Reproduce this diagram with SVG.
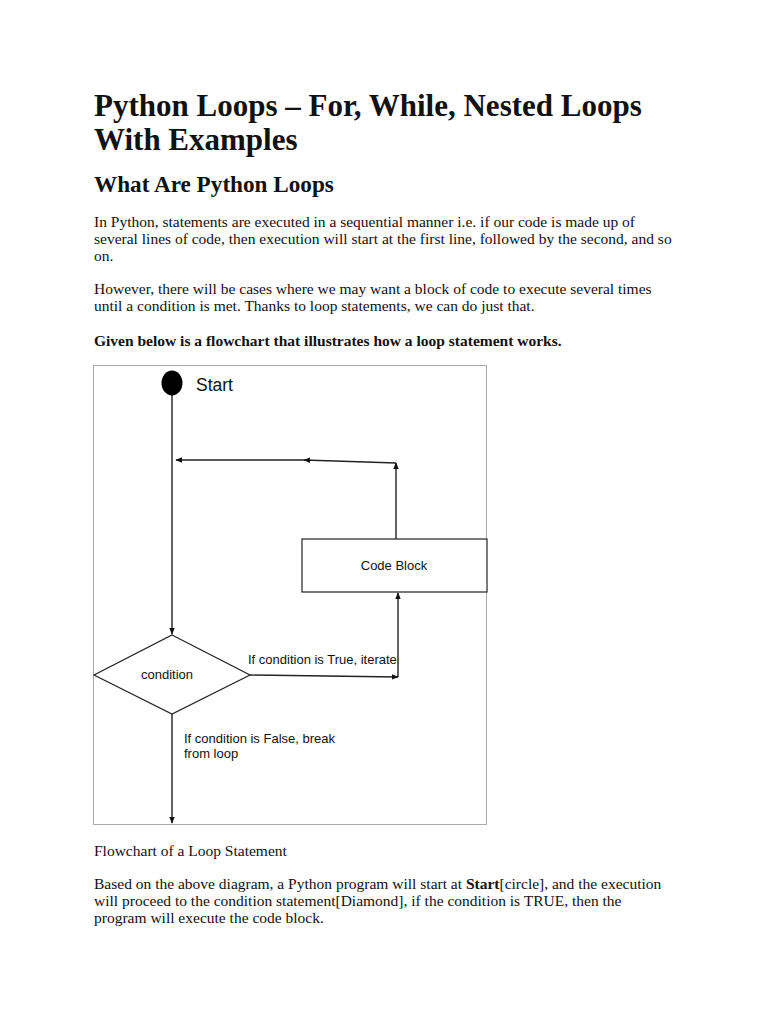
<svg xmlns="http://www.w3.org/2000/svg" width="768" height="1024" viewBox="0 0 768 1024">
<style>
.t{font-family:"Liberation Serif","Times New Roman",serif;fill:#111}
.b{font-size:15.5px}
.h1{font-size:31px;font-weight:bold}
.h2{font-size:23.2px;font-weight:bold}
.d{font-family:"Liberation Sans",Arial,sans-serif;fill:#111;font-size:13px}
.s{font-size:17.5px}
.ln{stroke:#222;stroke-width:1.4;fill:none}
</style>
<defs>
<marker id="ah" viewBox="0 0 10 10" refX="9" refY="5" markerWidth="5" markerHeight="5" orient="auto">
<path d="M0,1 L10,5 L0,9 z" fill="#111"/>
</marker>
</defs>
<rect width="768" height="1024" fill="#fff"/>
<g id="text">
<text class="t h1" x="94" y="116">Python Loops – For, While, Nested Loops</text>
<text class="t h1" x="94" y="150">With Examples</text>
<text class="t h2" x="94" y="192">What Are Python Loops</text>
<text class="t b" x="94" y="227">In Python, statements are executed in a sequential manner i.e. if our code is made up of</text>
<text class="t b" x="94" y="244">several lines of code, then execution will start at the first line, followed by the second, and so</text>
<text class="t b" x="94" y="261">on.</text>
<text class="t b" x="94" y="294">However, there will be cases where we may want a block of code to execute several times</text>
<text class="t b" x="94" y="311">until a condition is met. Thanks to loop statements, we can do just that.</text>
<text class="t b" x="94" y="346" font-weight="bold">Given below is a flowchart that illustrates how a loop statement works.</text>
<text class="t b" x="94" y="856">Flowchart of a Loop Statement</text>
<text class="t b" x="94" y="889">Based on the above diagram, a Python program will start at <tspan font-weight="bold">Start</tspan>[circle], and the execution</text>
<text class="t b" x="94" y="906">will proceed to the condition statement[Diamond], if the condition is TRUE, then the</text>
<text class="t b" x="94" y="923">program will execute the code block.</text>
</g>
<rect id="frame" x="93.5" y="365.5" width="393" height="459" fill="none" stroke="#aaa" stroke-width="1"/>
<g id="connectors">
<line class="ln" x1="172" y1="395" x2="172" y2="634" marker-end="url(#ah)"/>
<line class="ln" x1="396" y1="539" x2="396" y2="463" marker-end="url(#ah)"/>
<polyline class="ln" points="396,463 304,460" marker-end="url(#ah)"/>
<line class="ln" x1="304" y1="460" x2="176" y2="460" marker-end="url(#ah)"/>
<polyline class="ln" points="250,675 398,677" marker-end="url(#ah)"/>
<line class="ln" x1="398" y1="677" x2="398" y2="593" marker-end="url(#ah)"/>
<line class="ln" x1="172" y1="714" x2="172" y2="823" marker-end="url(#ah)"/>
<text class="d" x="248" y="664">If condition is True, iterate</text>
<text class="d" x="184" y="743">If condition is False, break</text>
<text class="d" x="184" y="758">from loop</text>
</g>
<g id="start">
<ellipse cx="172" cy="383" rx="10.5" ry="12.5" fill="#000"/>
<text class="d s" x="196" y="391">Start</text>
</g>
<g id="code-block">
<rect x="302" y="539" width="185" height="53" fill="#fff" stroke="#222" stroke-width="1.2"/>
<text class="d" x="394" y="570" text-anchor="middle">Code Block</text>
</g>
<g id="condition">
<polygon points="172,635 250,675 172,714 94,675" fill="#fff" stroke="#222" stroke-width="1.2"/>
<text class="d" x="167" y="679" text-anchor="middle">condition</text>
</g>
</svg>
